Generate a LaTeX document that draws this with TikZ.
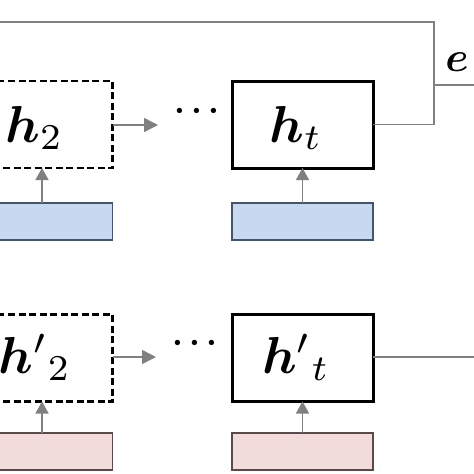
\documentclass[tikz,border=0pt]{standalone}
\usepackage{bm}
\usepackage{graphicx}
\usetikzlibrary{arrows.meta}
\definecolor{conn}{RGB}{128,128,128}
\definecolor{bluefill}{RGB}{198,217,240}
\definecolor{blueedge}{RGB}{68,84,106}
\definecolor{pinkfill}{RGB}{242,220,219}
\definecolor{pinkedge}{RGB}{90,74,74}
\newcommand{\biglab}[1]{\scalebox{5.2}{$#1$}}
\newcommand{\bigdots}{\scalebox{3.4}{$\bm{\cdots}$}}
\tikzset{
  hidbox/.style={draw=black, line width=3pt, minimum width=141pt, minimum height=87pt, inner sep=0pt, outer sep=0pt},
  hiddash/.style={hidbox, line width=2.6pt, dash pattern=on 7pt off 3.5pt},
  inbox/.style={draw=blueedge, fill=bluefill, line width=1.3pt, minimum width=141pt, minimum height=37pt, inner sep=0pt, outer sep=0pt},
  inpink/.style={inbox, draw=pinkedge, fill=pinkfill},
  lab/.style={anchor=base, inner sep=0pt},
  conline/.style={draw=conn, line width=1.5pt},
  conarrow/.style={conline, -{Triangle[length=14pt,width=14pt]}},
  uparrow/.style={conline, -{Triangle[length=12pt,width=13pt]}},
  dotsl/.style={inner sep=0pt}
}
\begin{document}
\begin{tikzpicture}[x=1pt,y=-1pt]
\useasboundingbox (0,0) rectangle (474,474);
\clip (0,0) rectangle (474,474);
% top row
\node[hiddash] (h2) at (42,124.5) {};
\node[hidbox] (ht) at (302.5,124.5) {};
\node[inbox] (x2) at (42,221.5) {};
\node[inbox] (xt) at (302.5,221.5) {};
\node[lab] (h2l) at (34.5,142) {\biglab{\bm{h}_2}};
\node[lab] (htl) at (296,142) {\biglab{\bm{h}_t}};
\node[dotsl] (d1) at (197,111) {\bigdots};
\coordinate (a1) at (158,125);
\draw[conarrow] (h2.east |- a1) -- (a1);
\draw[uparrow] (x2.north) -- (h2.south);
\draw[uparrow] (xt.north) -- (ht.south);
\coordinate (c1) at (434,124.5);
\coordinate (c2) at (434,22);
\coordinate (c3) at (0,22);
\coordinate (c4) at (434,85);
\coordinate (c5) at (474,85);
\draw[conline] (ht.east) -- (c1) -- (c2) -- (c3);
\draw[conline] (c4) -- (c5);
\node[anchor=base, inner sep=0pt] (e) at (457,71) {\scalebox{4.2}{$\bm{e}$}};
% bottom row
\node[hiddash] (g2) at (42,358) {};
\node[hidbox] (gt) at (302.5,358) {};
\node[inpink] (y2) at (42,451.5) {};
\node[inpink] (yt) at (302.5,451.5) {};
\node[lab] (g2l) at (35,373) {\biglab{\bm{h}'{}_2}};
\node[lab] (gtl) at (296,373) {\biglab{\bm{h}'{}_t}};
\node[dotsl] (d2) at (195,343) {\bigdots};
\coordinate (a2) at (156,357);
\draw[conarrow] (g2.east |- a2) -- (a2);
\draw[uparrow] (y2.north) -- (g2.south);
\draw[uparrow] (yt.north) -- (gt.south);
\coordinate (c6) at (474,357);
\draw[conline] (gt.east |- c6) -- (c6);
\end{tikzpicture}
\end{document}
